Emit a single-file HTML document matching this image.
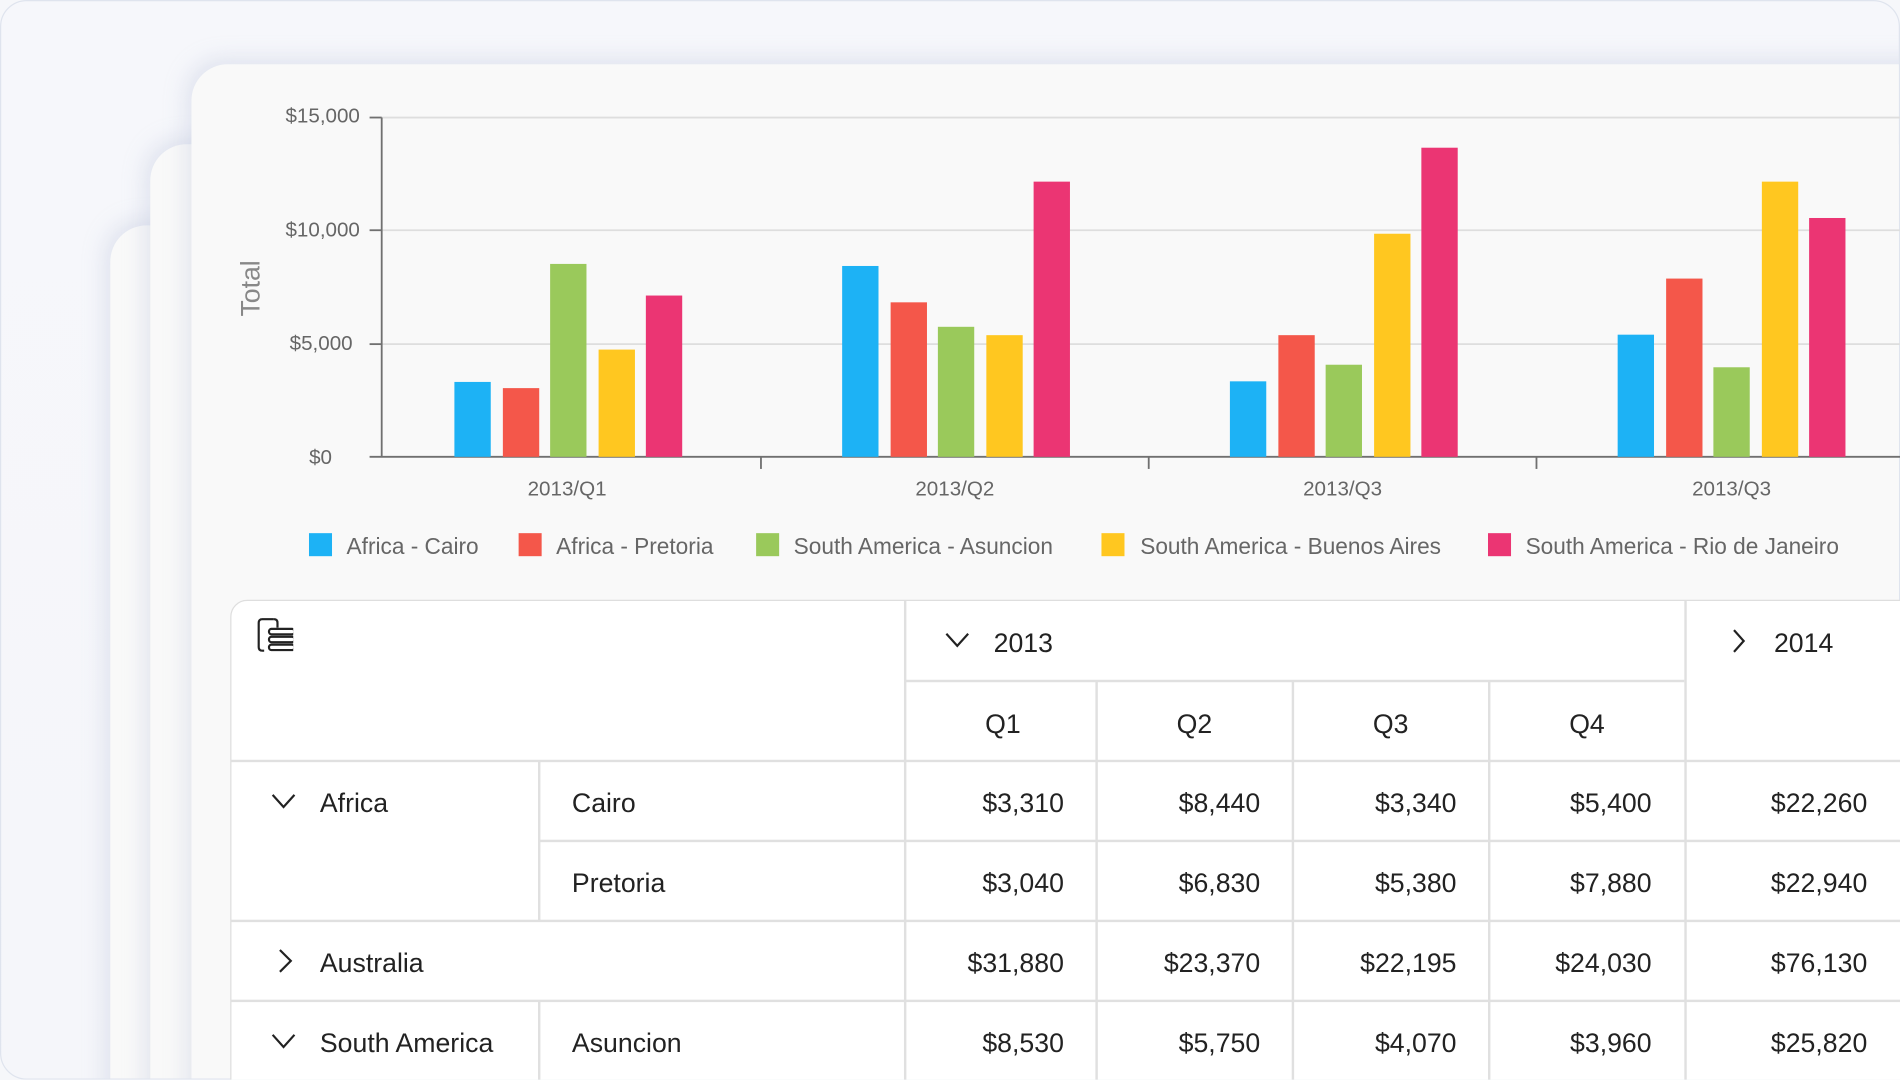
<!DOCTYPE html>
<html><head><meta charset="utf-8"><style>
html,body{margin:0;padding:0;width:1900px;height:1080px;overflow:hidden;background:#f6f7fa;}
#clip{position:absolute;left:0;top:0;width:1900px;height:1080px;overflow:hidden;}
#w{position:absolute;left:0;top:0;width:1568px;height:891px;overflow:hidden;transform:scale(1.21173);transform-origin:0 0;font-family:"Liberation Sans",sans-serif;}
.outer{position:absolute;left:0;top:0;width:1566px;height:889px;border:1px solid #dfe4ee;border-radius:22px;background:linear-gradient(180deg,#f6f7fb 0%,#f5f6fa 100%);overflow:hidden;}
.c{position:absolute;border-radius:30px 0 0 0;background:#f9f9f9;box-shadow:-4px -4px 18px rgba(180,190,215,.35);}
.tbl{position:absolute;left:190px;top:495px;width:1380px;height:400px;background:#fff;border:1.5px solid #dedede;border-radius:14px 0 0 0;}
.t{position:absolute;font-size:22px;color:#222;white-space:nowrap;}
.r{text-align:right;}
.hl{position:absolute;height:2px;background:#e0e0e0;}
.vl{position:absolute;width:2px;background:#e0e0e0;}
</style></head><body><div id="clip"><div id="w">
<div class="outer">
<div class="c" style="left:90px;top:185px;width:1600px;height:800px;"></div>
<div class="c" style="left:123px;top:118px;width:1600px;height:800px;"></div>
<div class="c" style="left:157px;top:52px;width:1600px;height:900px;"></div>
</div>
<svg style="position:absolute;left:0;top:0" width="1568" height="891" viewBox="0 0 1568 891" font-family="Liberation Sans, sans-serif">
<g stroke="#dedede" stroke-width="1.5">
<line x1="315" y1="97" x2="1568" y2="97"/><line x1="315" y1="190" x2="1568" y2="190"/><line x1="315" y1="284" x2="1568" y2="284"/>
</g>
<g stroke="#707070" stroke-width="1.5">
<line x1="315" y1="97" x2="315" y2="377"/>
<line x1="305" y1="97" x2="315" y2="97"/><line x1="305" y1="190" x2="315" y2="190"/><line x1="305" y1="284" x2="315" y2="284"/>
<line x1="305" y1="377" x2="1568" y2="377"/>
<line x1="628" y1="377" x2="628" y2="387"/><line x1="948" y1="377" x2="948" y2="387"/><line x1="1268" y1="377" x2="1268" y2="387"/>
</g>
<g font-size="17" fill="#666" text-anchor="end">
<text x="297" y="101">$15,000</text><text x="297" y="195">$10,000</text><text x="291" y="289">$5,000</text><text x="274" y="383">$0</text>
</g>
<text x="216" y="238" font-size="22" fill="#888" text-anchor="middle" transform="rotate(-90 216 238)" dy="-2">Total</text>
<g font-size="17" fill="#666" text-anchor="middle">
<text x="468" y="409">2013/Q1</text><text x="788" y="409">2013/Q2</text><text x="1108" y="409">2013/Q3</text><text x="1429" y="409">2013/Q3</text>
</g>
<g>
<rect x="375" y="315.2" width="30" height="61.8" fill="#1db2f5"/>
<rect x="415" y="320.3" width="30" height="56.7" fill="#f4574a"/>
<rect x="454" y="217.8" width="30" height="159.2" fill="#9ac95b"/>
<rect x="494" y="288.5" width="30" height="88.5" fill="#ffc720"/>
<rect x="533" y="243.9" width="30" height="133.1" fill="#eb3573"/>
<rect x="695" y="219.5" width="30" height="157.5" fill="#1db2f5"/>
<rect x="735" y="249.5" width="30" height="127.5" fill="#f4574a"/>
<rect x="774" y="269.7" width="30" height="107.3" fill="#9ac95b"/>
<rect x="814" y="276.6" width="30" height="100.4" fill="#ffc720"/>
<rect x="853" y="149.9" width="30" height="227.1" fill="#eb3573"/>
<rect x="1015" y="314.7" width="30" height="62.3" fill="#1db2f5"/>
<rect x="1055" y="276.6" width="30" height="100.4" fill="#f4574a"/>
<rect x="1094" y="301" width="30" height="76" fill="#9ac95b"/>
<rect x="1134" y="192.9" width="30" height="184.1" fill="#ffc720"/>
<rect x="1173" y="121.9" width="30" height="255.1" fill="#eb3573"/>
<rect x="1335" y="276.2" width="30" height="100.8" fill="#1db2f5"/>
<rect x="1375" y="229.9" width="30" height="147.1" fill="#f4574a"/>
<rect x="1414" y="303.1" width="30" height="73.9" fill="#9ac95b"/>
<rect x="1454" y="149.9" width="30" height="227.1" fill="#ffc720"/>
<rect x="1493" y="179.9" width="30" height="197.1" fill="#eb3573"/>
</g>
<g font-size="18.7" fill="#666">
<rect x="255" y="440" width="19" height="19" fill="#1db2f5"/><text x="286" y="457">Africa - Cairo</text>
<rect x="428" y="440" width="19" height="19" fill="#f4574a"/><text x="459" y="457">Africa - Pretoria</text>
<rect x="624" y="440" width="19" height="19" fill="#9ac95b"/><text x="655" y="457">South America - Asuncion</text>
<rect x="909" y="440" width="19" height="19" fill="#ffc720"/><text x="941" y="457">South America - Buenos Aires</text>
<rect x="1228" y="440" width="19" height="19" fill="#eb3573"/><text x="1259" y="457">South America - Rio de Janeiro</text>
</g>
</svg>
<div class="tbl"></div>
<div class="vl" style="left:746px;top:496px;height:400px"></div>
<div class="vl" style="left:1390px;top:496px;height:400px"></div>
<div class="vl" style="left:904px;top:562px;height:330px"></div>
<div class="vl" style="left:1066px;top:562px;height:330px"></div>
<div class="vl" style="left:1228px;top:562px;height:330px"></div>
<div class="vl" style="left:444px;top:628px;height:132px"></div>
<div class="vl" style="left:444px;top:826px;height:70px"></div>
<div class="hl" style="left:747px;top:561px;width:643px"></div>
<div class="hl" style="left:191px;top:627px;width:1377px"></div>
<div class="hl" style="left:445px;top:693px;width:1123px"></div>
<div class="hl" style="left:191px;top:759px;width:1377px"></div>
<div class="hl" style="left:191px;top:825px;width:1377px"></div>
<svg style="position:absolute;left:212px;top:510px" width="30" height="30" viewBox="0 0 30 30" fill="none" stroke="#222" stroke-width="1.8">
<path d="M14 1H4.5Q1.5 1 1.5 4V24Q1.5 27 4.5 27H6"/>
<rect x="10" y="9" width="21" height="4.5" rx="2"/><rect x="10" y="15.5" width="21" height="4.5" rx="2"/><rect x="10" y="22" width="21" height="4.5" rx="2"/>
<path d="M14 1Q17 1 17 4V8"/>
</svg>
<svg style="position:absolute;left:0;top:0" width="1568" height="891" fill="none" stroke="#222" stroke-width="1.8">
<path d="M781 523L790 533L799 523"/>
<path d="M1431 520L1439 529L1431 538"/>
<path d="M225 656L234 666L243 656"/>
<path d="M231 784L240 793L231 802"/>
<path d="M225 854L234 864L243 854"/>
</svg>
<div class="t" style="left:820px;top:518px">2013</div>
<div class="t" style="left:1464px;top:518px">2014</div>
<div class="t" style="left:813px;top:585px">Q1</div>
<div class="t" style="left:971px;top:585px">Q2</div>
<div class="t" style="left:1133px;top:585px">Q3</div>
<div class="t" style="left:1295px;top:585px">Q4</div>
<div class="t" style="left:264px;top:650px">Africa</div>
<div class="t" style="left:472px;top:650px">Cairo</div>
<div class="t" style="left:472px;top:716px">Pretoria</div>
<div class="t" style="left:264px;top:782px">Australia</div>
<div class="t" style="left:264px;top:848px">South America</div>
<div class="t" style="left:472px;top:848px">Asuncion</div>
<div class="t r" style="left:760px;width:118px;top:650px">$3,310</div>
<div class="t r" style="left:920px;width:120px;top:650px">$8,440</div>
<div class="t r" style="left:1080px;width:122px;top:650px">$3,340</div>
<div class="t r" style="left:1240px;width:123px;top:650px">$5,400</div>
<div class="t r" style="left:1400px;width:141px;top:650px">$22,260</div>
<div class="t r" style="left:760px;width:118px;top:716px">$3,040</div>
<div class="t r" style="left:920px;width:120px;top:716px">$6,830</div>
<div class="t r" style="left:1080px;width:122px;top:716px">$5,380</div>
<div class="t r" style="left:1240px;width:123px;top:716px">$7,880</div>
<div class="t r" style="left:1400px;width:141px;top:716px">$22,940</div>
<div class="t r" style="left:760px;width:118px;top:782px">$31,880</div>
<div class="t r" style="left:920px;width:120px;top:782px">$23,370</div>
<div class="t r" style="left:1080px;width:122px;top:782px">$22,195</div>
<div class="t r" style="left:1240px;width:123px;top:782px">$24,030</div>
<div class="t r" style="left:1400px;width:141px;top:782px">$76,130</div>
<div class="t r" style="left:760px;width:118px;top:848px">$8,530</div>
<div class="t r" style="left:920px;width:120px;top:848px">$5,750</div>
<div class="t r" style="left:1080px;width:122px;top:848px">$4,070</div>
<div class="t r" style="left:1240px;width:123px;top:848px">$3,960</div>
<div class="t r" style="left:1400px;width:141px;top:848px">$25,820</div>
</div></div></body></html>
